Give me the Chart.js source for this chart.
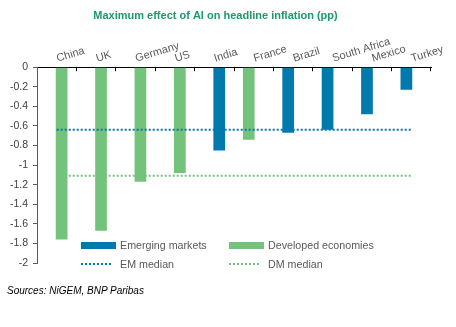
<!DOCTYPE html>
<html>
<head>
<meta charset="utf-8">
<script src="https://cdn.jsdelivr.net/npm/chart.js@4"></script>
<style>
  body { margin: 0; background: #fff; }
  #wrap { position: relative; width: 456px; height: 327px; font-family: "Liberation Sans", Arial, sans-serif; }
  #legend { position: absolute; left: 81px; top: 238px; display: grid; grid-template-columns: 148px 150px; row-gap: 5px; }
  .item { display: flex; align-items: center; height: 14px; font-size: 10.7px; color: #595959; }
  .swatch { width: 35px; margin-right: 4px; }
  .bar { height: 7px; }
  .dots { width: 32px; margin-right: 7px; height: 2px; }
  #source { position: absolute; left: 7px; top: 285px; font-size: 10px; font-style: italic; color: #000; }
</style>
</head>
<body>
<div id="wrap">
  <canvas id="chart" width="456" height="327"></canvas>
  <div id="legend"></div>
  <div id="source">Sources: NiGEM, BNP Paribas</div>
</div>
<script>
var categories = ['China', 'UK', 'Germany', 'US', 'India', 'France', 'Brazil', 'South Africa', 'Mexico', 'Turkey'];
var developed = [-1.76, -1.67, -1.17, -1.08, null, -0.74, null, null, null, null];
var emerging = [null, null, null, null, -0.85, null, -0.67, -0.64, -0.48, -0.23];
var emMedian = -0.64;
var dmMedian = -1.11;
var yTicks = [0, -0.2, -0.4, -0.6, -0.8, -1, -1.2, -1.4, -1.6, -1.8, -2];

var blue = '#0079ad';
var green = '#74c37c';
var gray = '#595959';

//from France on the bars sit just left of the category centre, before it just right
var leftFrom = 5;
function side(values, left){
  return values.map(function(v, i){ return (i >= leftFrom) === left ? v : null; });
}
function flat(v){
  return categories.map(function(){ return v; });
}

function bars(label, values, colour, stack, legend){
  return {
    type: 'bar', label: label, data: values, stack: stack, order: 1,
    backgroundColor: colour, borderWidth: 0,
    categoryPercentage: 0.5, barPercentage: 1.19,
    inLegend: legend
  };
}
function median(label, v, colour){
  return {
    type: 'line', label: label, data: flat(v), order: 0,
    borderColor: colour, borderWidth: 2, borderDash: [2, 2],
    pointRadius: 0, fill: false, inLegend: true
  };
}

var datasets = [
  bars('Emerging markets', side(emerging, true), blue, 'left', true),
  bars('Developed economies', side(developed, true), green, 'left', true),
  bars('Emerging markets', side(emerging, false), blue, 'right', false),
  bars('Developed economies', side(developed, false), green, 'right', false),
  median('EM median', emMedian, blue),
  median('DM median', dmMedian, green)
];

Chart.defaults.font.family = '"Liberation Sans", Arial, sans-serif';

var chart = new Chart(document.getElementById('chart'), {
  data: { labels: categories, datasets: datasets },
  options: {
    responsive: false,
    animation: false,
    devicePixelRatio: 1,
    layout: { padding: { left: 0, right: 25, top: 0, bottom: 64 } },
    plugins: {
      legend: { display: false },
      tooltip: { enabled: false },
      title: {
        display: true,
        text: 'Maximum effect of AI on headline inflation (pp)',
        color: '#1a9b6c',
        font: { size: 11, weight: 'bold' },
        padding: { top: 9, bottom: 4 }
      }
    },
    scales: {
      x: {
        position: 'top',
        afterFit: function(s){ s.height = 41; },
        border: { color: '#000', width: 1 },
        grid: { drawOnChartArea: false, tickLength: -4, color: '#000' },
        ticks: {
          color: gray, font: { size: 11 }, minRotation: 17, maxRotation: 17,
          padding: 6, labelOffset: 4, autoSkip: false
        }
      },
      y: {
        stacked: false,
        min: -2, max: 0,
        afterFit: function(s){ s.width = 37; },
        afterBuildTicks: function(s){ s.ticks = yTicks.map(function(v){ return { value: v }; }); },
        border: { color: gray, width: 1 },
        grid: { drawOnChartArea: false, tickLength: 4, color: gray },
        ticks: {
          color: '#404040', font: { size: 10.5 }, padding: 5,
          callback: function(v){ return String(Math.round(v * 10) / 10); }
        }
      }
    }
  }
});

//html legend built from the datasets, laid over the lower part of the plot
var legend = document.getElementById('legend');
datasets.forEach(function(ds){
  if (!ds.inLegend) return;
  var item = document.createElement('div');
  item.className = 'item';
  var sw = document.createElement('span');
  if (ds.type === 'bar') {
    sw.className = 'swatch bar';
    sw.style.background = ds.backgroundColor;
  } else {
    sw.className = 'dots';
    sw.style.background = 'repeating-linear-gradient(90deg, ' + ds.borderColor + ' 0 2px, transparent 2px 4px)';
  }
  item.appendChild(sw);
  item.appendChild(document.createTextNode(ds.label));
  legend.appendChild(item);
});
</script>
</body>
</html>
